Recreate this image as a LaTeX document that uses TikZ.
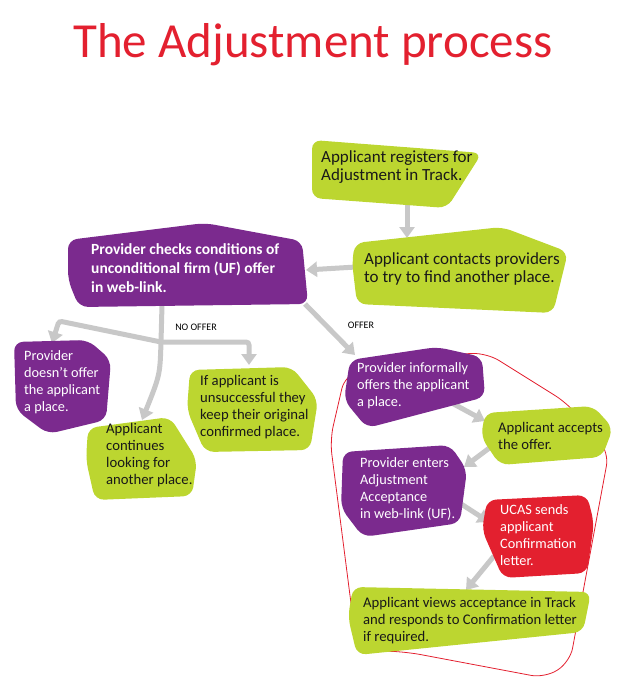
\documentclass[tikz,border=0pt]{standalone}
\usepackage{fontspec}
\setmainfont{Carlito}
\usetikzlibrary{arrows.meta}
\definecolor{lime}{HTML}{BCD630}
\definecolor{purp}{HTML}{7B2A8E}
\definecolor{ured}{HTML}{E3202F}
\definecolor{arr}{HTML}{C8C8C8}
\begin{document}
\begin{tikzpicture}[x=1pt,y=-1pt,
 blob/.style={rounded corners=9pt},
 gtxt/.style={anchor=north west,align=left,font=\fontsize{17}{18}\selectfont,text=black!90,inner sep=0pt},
 ptxt/.style={gtxt,font=\bfseries\fontsize{15.5}{19}\selectfont,text=white},
 sg/.style={gtxt,font=\fontsize{14.7}{17}\selectfont},
 sp/.style={ptxt,font=\fontsize{14.3}{17}\selectfont},
 conn/.style={draw=arr,line width=5pt,-{Triangle[length=11pt,width=15pt]}},
 lab/.style={font=\fontsize{10}{12}\selectfont,inner sep=0pt}]
\useasboundingbox (0,0) rectangle (619,691);
\node[text=ured,font=\fontsize{49}{52}\selectfont] (title) at (313,45) {The Adjustment process};
% connector coordinates
\coordinate (a1) at (407,205); \coordinate (b1) at (407,238);
\coordinate (a2) at (356,267); \coordinate (b2) at (306,270);
\coordinate (a3) at (305,304); \coordinate (b3) at (355,355);
\coordinate (j) at (161,342);
\coordinate (a4) at (162,305);
\coordinate (l1) at (59,321); \coordinate (b4) at (52,343);
\coordinate (r1) at (249,342); \coordinate (b5) at (249,365);
\coordinate (b6) at (142,420);
\coordinate (a7) at (450,402); \coordinate (b7) at (485,421);
\coordinate (a8) at (492,446); \coordinate (b8) at (464,467);
\coordinate (a9) at (455,500); \coordinate (b9) at (489,522);
\coordinate (a10) at (494,556); \coordinate (b10) at (466,590);
\draw[conn] (a1)--(b1);
\draw[conn] (a2)--(b2);
\draw[conn] (a3)--(b3);
\draw[draw=arr,line width=5pt] (a4)--(j);
\draw[conn,rounded corners=3pt] (j)--(l1)--(b4);
\draw[conn,rounded corners=3pt] (j)--(r1)--(b5);
\draw[conn] (j) .. controls (160,375) .. (b6);
\draw[conn] (a7)--(b7);
\draw[conn] (a8)--(b8);
\draw[conn] (a9)--(b9);
\draw[conn] (a10)--(b10);
% red outline
\draw[ured,line width=0.8pt,rounded corners=14pt] (400,356)--(487,353)--(567,403)--(609,452)--(570,662)--(545,678)--(407,652)--(357,650)--(330,440)--(345,375)--cycle;
% shapes
\fill[lime,blob] (312,140)--(482,153)--(447,208)--(312,198)--cycle;
\fill[lime,blob] (355,243)--(502,227)--(568,252)--(553,313)--(357,304)--(352,262)--cycle;
\fill[purp,blob] (68,240)--(205,223)--(302,241)--(308,304)--(79,307)--(68,280)--cycle;
\fill[purp,blob] (14,342)--(88,340)--(111,360)--(106,420)--(48,434)--(16,410)--cycle;
\fill[lime,blob] (88,428)--(170,417)--(197,460)--(192,496)--(95,500)--(86,460)--cycle;
\fill[lime,blob] (190,370)--(292,367)--(318,400)--(310,450)--(205,452)--(187,410)--cycle;
\fill[purp,blob] (350,360)--(437,347)--(482,357)--(485,397)--(367,428)--(344,400)--cycle;
\fill[lime,blob] (485,413)--(593,406)--(613,428)--(602,457)--(500,465)--(481,437)--cycle;
\fill[purp,blob] (343,452)--(450,445)--(467,470)--(460,523)--(363,537)--(341,508)--cycle;
\fill[ured,blob] (487,500)--(587,495)--(594,523)--(587,573)--(503,578)--(482,530)--cycle;
\fill[lime,blob] (353,587)--(591,592)--(583,632)--(357,655)--(348,617)--cycle;
% texts
\node[gtxt] (reg) at (321,150) {Applicant registers for\\Adjustment in Track.};
\node[gtxt] (con) at (364,252) {Applicant contacts providers\\to try to find another place.};
\node[ptxt] (chk) at (91,243) {Provider checks conditions of\\unconditional firm (UF) offer\\in web-link.};
\node[sp] (no) at (24,350) {Provider\\doesn’t offer\\the applicant\\a place.};
\node[sg] (cont) at (106,423) {Applicant\\continues\\looking for\\another place.};
\node[sg] (keep) at (200,375) {If applicant is\\unsuccessful they\\keep their original\\confirmed place.};
\node[sp] (inf) at (357,362) {Provider informally\\offers the applicant\\a place.};
\node[sg] (acc) at (498,422) {Applicant accepts\\the offer.};
\node[sp] (ent) at (360,457) {Provider enters\\Adjustment\\Acceptance\\in web-link (UF).};
\node[sp] (ucas) at (500,504) {UCAS sends\\applicant\\Confirmation\\letter.};
\node[sg] (view) at (363,597) {Applicant views acceptance in Track\\and responds to Confirmation letter\\if required.};
\node[lab] (nol) at (196,327) {NO OFFER};
\node[lab] (ofl) at (361,325) {OFFER};
\end{tikzpicture}
\end{document}
